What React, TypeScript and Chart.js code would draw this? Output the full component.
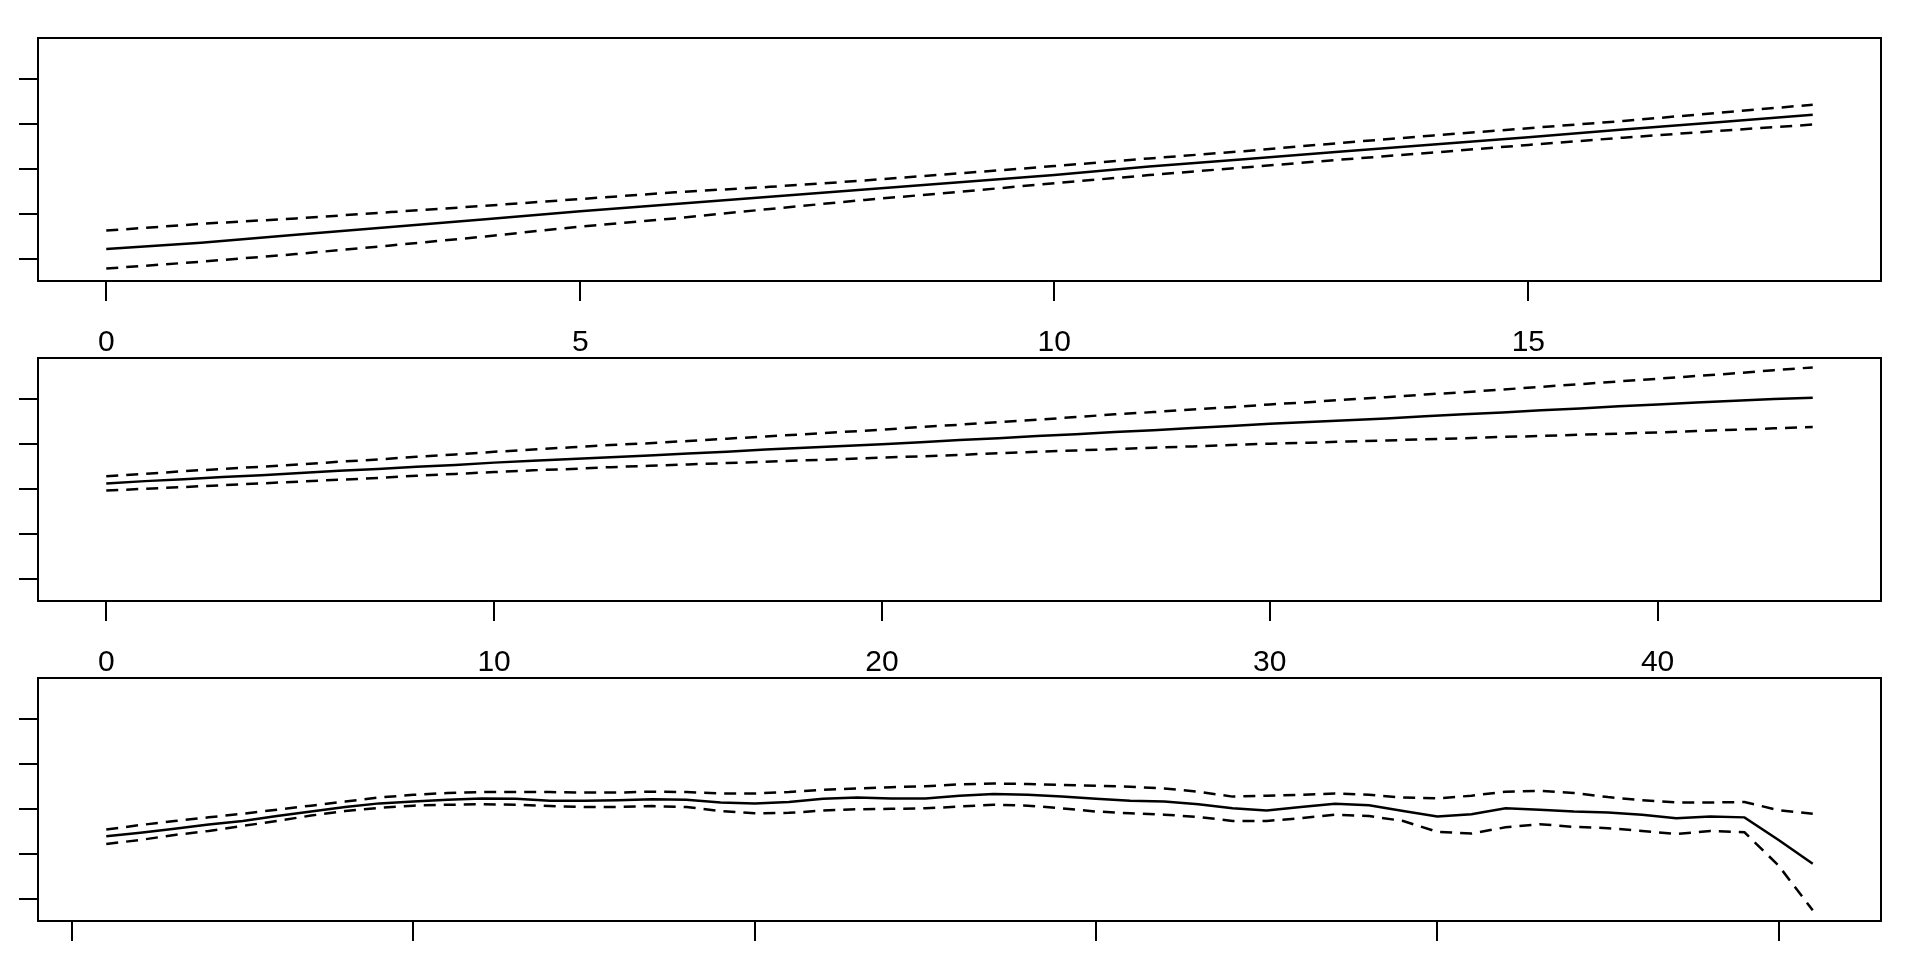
import { useEffect, useRef } from 'react';
import Chart from 'chart.js/auto';

// horizon steps (x) for each panel
const steps1 = [0, 1, 2, 3, 4, 5, 6, 7, 8, 9, 10, 11, 12, 13, 14, 15, 16, 17, 18];
const steps2 = [
  0, 1, 2, 3, 4, 5, 6, 7, 8, 9, 10, 11, 12, 13, 14, 15, 16, 17, 18, 19, 20, 21, 22,
  23, 24, 25, 26, 27, 28, 29, 30, 31, 32, 33, 34, 35, 36, 37, 38, 39, 40, 41, 42, 43, 44,
];
const steps3 = [
  1, 2, 3, 4, 5, 6, 7, 8, 9, 10, 11, 12, 13, 14, 15, 16, 17, 18, 19, 20, 21, 22, 23, 24, 25,
  26, 27, 28, 29, 30, 31, 32, 33, 34, 35, 36, 37, 38, 39, 40, 41, 42, 43, 44, 45, 46, 47, 48,
  49, 50, 51,
];

// panel 1: estimate and band
const estimate1 = [0.23, 0.37, 0.55, 0.72, 0.89, 1.07, 1.23, 1.39, 1.55, 1.71, 1.87, 2.06, 2.22, 2.39, 2.55, 2.71, 2.88, 3.04, 3.21];
const upper1 = [0.64, 0.79, 0.91, 1.05, 1.19, 1.34, 1.49, 1.61, 1.75, 1.91, 2.07, 2.24, 2.4, 2.58, 2.75, 2.91, 3.07, 3.25, 3.43];
const lower1 = [-0.2, -0.05, 0.12, 0.31, 0.51, 0.73, 0.91, 1.12, 1.32, 1.5, 1.69, 1.87, 2.04, 2.21, 2.37, 2.54, 2.7, 2.85, 2.99];

// panel 2
const estimate2 = [
  2.13, 2.18, 2.22, 2.27, 2.31, 2.36, 2.41, 2.45, 2.5, 2.54, 2.59, 2.63, 2.67, 2.71, 2.75,
  2.79, 2.83, 2.88, 2.92, 2.96, 3.0, 3.04, 3.09, 3.13, 3.18, 3.22, 3.27, 3.31, 3.36, 3.4,
  3.45, 3.49, 3.53, 3.57, 3.62, 3.66, 3.7, 3.75, 3.79, 3.84, 3.88, 3.92, 3.96, 4.0, 4.03,
];
const upper2 = [
  2.29, 2.34, 2.4, 2.45, 2.5, 2.55, 2.61, 2.66, 2.72, 2.77, 2.83, 2.88, 2.93, 2.98, 3.02,
  3.07, 3.12, 3.17, 3.22, 3.27, 3.32, 3.38, 3.43, 3.49, 3.54, 3.6, 3.66, 3.71, 3.77, 3.82,
  3.88, 3.93, 3.99, 4.04, 4.1, 4.15, 4.21, 4.27, 4.33, 4.39, 4.45, 4.51, 4.57, 4.64, 4.7,
];
const lower2 = [
  1.97, 2.01, 2.05, 2.09, 2.13, 2.17, 2.21, 2.25, 2.3, 2.34, 2.38, 2.42, 2.45, 2.49, 2.52,
  2.55, 2.58, 2.61, 2.64, 2.67, 2.7, 2.73, 2.76, 2.8, 2.83, 2.86, 2.89, 2.92, 2.95, 2.98,
  3.01, 3.03, 3.06, 3.08, 3.11, 3.13, 3.16, 3.18, 3.21, 3.23, 3.26, 3.29, 3.32, 3.35, 3.38,
];

// panel 3
const estimate3 = [
  1.4, 1.48, 1.57, 1.66, 1.74, 1.85, 1.95, 2.05, 2.13, 2.17, 2.21, 2.24, 2.23, 2.19, 2.19, 2.2, 2.22,
  2.21, 2.15, 2.13, 2.16, 2.23, 2.26, 2.24, 2.24, 2.3, 2.34, 2.32, 2.28, 2.23, 2.19, 2.17, 2.11, 2.02,
  1.97, 2.05, 2.12, 2.09, 1.96, 1.84, 1.89, 2.02, 1.99, 1.95, 1.93, 1.88, 1.8, 1.84, 1.82, 1.32, 0.79,
];
const upper3 = [
  1.55, 1.65, 1.74, 1.82, 1.9, 1.99, 2.08, 2.17, 2.26, 2.32, 2.36, 2.38, 2.38, 2.38, 2.37, 2.37, 2.39,
  2.38, 2.35, 2.35, 2.38, 2.43, 2.46, 2.49, 2.51, 2.55, 2.57, 2.56, 2.54, 2.52, 2.5, 2.46, 2.39, 2.28,
  2.3, 2.32, 2.35, 2.32, 2.26, 2.24, 2.3, 2.39, 2.41, 2.36, 2.27, 2.2, 2.15, 2.15, 2.16, 1.98, 1.9,
];
const lower3 = [
  1.23, 1.32, 1.43, 1.52, 1.63, 1.74, 1.86, 1.96, 2.03, 2.08, 2.1, 2.11, 2.1, 2.07, 2.05, 2.05, 2.07,
  2.05, 1.96, 1.91, 1.92, 1.97, 2.0, 2.01, 2.02, 2.06, 2.1, 2.08, 2.02, 1.95, 1.91, 1.88, 1.83, 1.74,
  1.74, 1.8, 1.88, 1.85, 1.74, 1.5, 1.46, 1.6, 1.67, 1.61, 1.58, 1.52, 1.45, 1.52, 1.49, 0.75, -0.24,
];

// tick values
const yTicks = [0, 1, 2, 3, 4];
const xTicks1 = [0, 5, 10, 15];
const xTicks2 = [0, 10, 20, 30, 40];
const xTicks3 = [0, 10, 20, 30, 40, 50];

const Y_MIN = -0.477;
const Y_MAX = 4.909;

const CANVAS_W = 1920;
const CANVAS_H = 400;
const AREA_TOP = 38;
const AREA_LEFT = 38;
const AREA_RIGHT_PAD = 39;
const AREA_HEIGHT = 243;
const LINE_W = 2.5;
const DASH = [12, 8];
const FONT_FAMILY = 'Arial, "Liberation Sans", sans-serif';

const boxPlugin = {
  id: 'panelBox',
  afterDatasetsDraw(chart: Chart) {
    const { ctx, chartArea } = chart;
    ctx.save();
    ctx.strokeStyle = '#000';
    ctx.lineWidth = 2;
    ctx.strokeRect(chartArea.left, chartArea.top, chartArea.right - chartArea.left, chartArea.bottom - chartArea.top);
    ctx.restore();
  },
};

interface PanelProps {
  readonly steps: number[];
  readonly estimate: number[];
  readonly upper: number[];
  readonly lower: number[];
  readonly xTicks: number[];
  readonly xMin: number;
  readonly xMax: number;
  readonly top: number;
}

function Panel({ steps, estimate, upper, lower, xTicks, xMin, xMax, top }: PanelProps) {
  const canvasRef = useRef<HTMLCanvasElement | null>(null);

  useEffect(() => {
    if (!canvasRef.current) {
      return;
    }

    const series = (label: string, values: number[], dash: number[]) => ({
      label,
      data: steps.map((x, i) => ({ x, y: values[i] })),
      borderColor: '#000',
      borderWidth: LINE_W,
      borderDash: dash,
      borderCapStyle: 'butt' as const,
      pointRadius: 0,
      tension: 0,
      fill: false,
    });

    const chart = new Chart(canvasRef.current, {
      type: 'line',
      data: {
        datasets: [series('estimate', estimate, []), series('upper', upper, DASH), series('lower', lower, DASH)],
      },
      options: {
        animation: false,
        responsive: false,
        devicePixelRatio: 1,
        layout: { padding: { top: AREA_TOP, left: 0, right: AREA_RIGHT_PAD, bottom: 0 } },
        plugins: { legend: { display: false }, tooltip: { enabled: false } },
        scales: {
          x: {
            type: 'linear',
            min: xMin,
            max: xMax,
            afterBuildTicks: (scale) => {
              scale.ticks = xTicks.map((value) => ({ value }));
            },
            afterFit: (scale) => {
              scale.height = CANVAS_H - AREA_TOP - AREA_HEIGHT;
            },
            border: { display: false },
            grid: { drawOnChartArea: false, drawTicks: true, tickLength: 20, color: '#000', lineWidth: 2 },
            ticks: {
              autoSkip: false,
              maxRotation: 0,
              padding: 24,
              color: '#000',
              font: { family: FONT_FAMILY, size: 30 },
            },
          },
          y: {
            type: 'linear',
            min: Y_MIN,
            max: Y_MAX,
            afterBuildTicks: (scale) => {
              scale.ticks = yTicks.map((value) => ({ value }));
            },
            afterFit: (scale) => {
              scale.width = AREA_LEFT;
            },
            border: { display: false },
            grid: { drawOnChartArea: false, drawTicks: true, tickLength: 19, color: '#000', lineWidth: 2 },
            ticks: { display: false },
          },
        },
      },
      plugins: [boxPlugin],
    });

    return () => {
      chart.destroy();
    };
  }, [steps, estimate, upper, lower, xTicks, xMin, xMax]);

  return (
    <canvas
      ref={canvasRef}
      width={CANVAS_W}
      height={CANVAS_H}
      style={{ position: 'absolute', left: 0, top, width: CANVAS_W, height: CANVAS_H }}
    />
  );
}

export default function App() {
  return (
    <div
      style={{
        position: 'fixed',
        left: 0,
        top: 0,
        width: 1920,
        height: 960,
        overflow: 'hidden',
        background: '#fff',
      }}
    >
      <Panel steps={steps1} estimate={estimate1} upper={upper1} lower={lower1} xTicks={xTicks1} xMin={-0.72} xMax={18.72} top={0} />
      <Panel steps={steps2} estimate={estimate2} upper={upper2} lower={lower2} xTicks={xTicks2} xMin={-1.76} xMax={45.76} top={320} />
      <Panel steps={steps3} estimate={estimate3} upper={upper3} lower={lower3} xTicks={xTicks3} xMin={-1} xMax={53} top={640} />
    </div>
  );
}
